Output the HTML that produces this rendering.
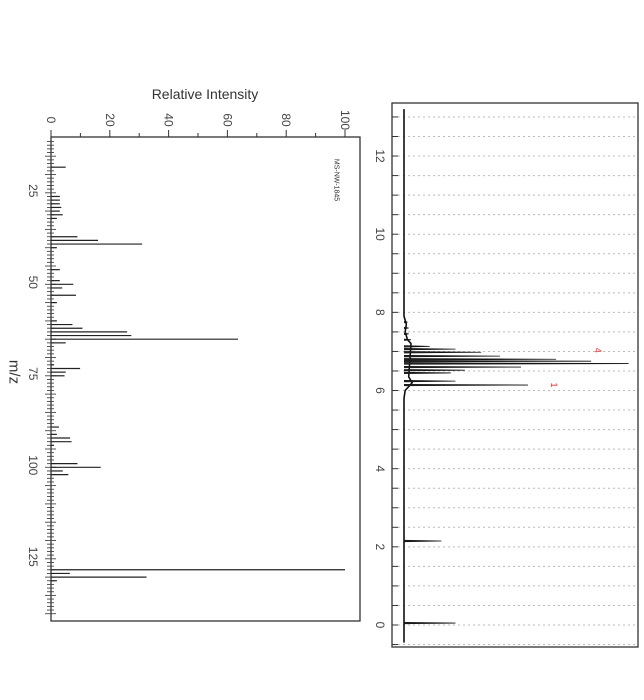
<!DOCTYPE html>
<html><head><meta charset="utf-8"><style>
html,body{margin:0;padding:0;background:#fff;}
svg{display:block;font-family:"Liberation Sans",sans-serif;}
</style></head><body>
<svg id="chart" width="644" height="700" viewBox="0 0 644 700">
<g id="ms"></g>
<g id="tic"></g>
</svg>
<script>
// Mass spectrum data
const msMz = [18,26,27,28,29,30,31,32,37,38,39,40,46,49,50,51,53,55,60,61,62,63,64,65,66,72,73,74,75,89,91,92,93,94,99,100,101,102,128,129,130,131];
const msInt = [5,3,3,3,3.5,3,4,2,9,16,31,2,3,3,7.6,3.8,8.5,2,2,7.3,10.7,25.9,27.3,63.6,5,1,9.9,5,4.6,2.7,2,6.5,7,1,9,16.9,4,5.9,100,6.4,32.5,2];
const intTicks = [0,20,40,60,80,100];
const mzTicks = [25,50,75,100,125];
// Chromatogram data
const peakTimes = [0.05,2.15,6.14,6.24,6.45,6.52,6.60,6.69,6.75,6.80,6.88,6.98,7.06,7.13,7.30,7.45,7.6,7.75];
const peakInts = [22,16,53,22,20,26,50,96,80,65,41,33,22,11,3,2,2,1.5];
const timeTicks = [0,2,4,6,8,10,12];
const peakLabels = ["1","4"];
const peakLabelTimes = [6.14,7.03];
const peakLabelInts = [64,83];

const NS="http://www.w3.org/2000/svg";
function mk(tag,attrs,parent,text){const e=document.createElementNS(NS,tag);for(const k in attrs)e.setAttribute(k,attrs[k]);if(text!==undefined)e.textContent=text;parent.appendChild(e);return e;}

// ---------- Mass spectrum ----------
const ms=document.getElementById('ms');
const msX = v => 51 + v*2.94;
const msY = m => 101.3 + m*3.66;
const box=mk('rect',{x:51,y:137,width:309,height:484,fill:'none',stroke:'#333','stroke-width':1.3},ms);


for(let v=0;v<=100;v+=10){
  const t=mk('line',{x1:msX(v),x2:msX(v),y1:137,y2:v%20===0?130:133,stroke:'#333','stroke-width':1},ms);
  
  
}
intTicks.forEach(v=>{
  const x=msX(v),y=120;
  const t=mk('text',{x:x,y:y,'font-size':12,fill:'#444','text-anchor':'middle','dominant-baseline':'central',transform:`rotate(90 ${x} ${y})`},ms,String(v));
  
  
});
for(let m=11;m<=140;m++){
  const y=msY(m);
  const big=m%5===0;
  const t=mk('line',{x1:big?45:47,x2:big?56:54,y1:y,y2:y,stroke:'#444','stroke-width':0.9},ms);
  
  
}
mzTicks.forEach(m=>{
  const x=33,y=msY(m)-2;
  const t=mk('text',{x:x,y:y,'font-size':12,fill:'#444','text-anchor':'middle','dominant-baseline':'central',transform:`rotate(90 ${x} ${y})`},ms,String(m));
  
  
});
msMz.forEach((m,i)=>{
  const b=mk('line',{x1:msX(0),x2:msX(msInt[i]),y1:msY(m),y2:msY(m),stroke:'#222','stroke-width':1.2},ms);
  
  
});
let t1=mk('text',{x:205,y:99,'font-size':14,fill:'#333','text-anchor':'middle'},ms,'Relative Intensity');


let t2=mk('text',{x:14,y:372,'font-size':15,fill:'#333','text-anchor':'middle','dominant-baseline':'central',transform:'rotate(90 14 372)'},ms,'m/z');


let t3=mk('text',{x:336,y:180,'font-size':7,fill:'#333','text-anchor':'middle','dominant-baseline':'central',transform:'rotate(90 336 180)'},ms,'MS-NW-1845');



// ---------- Chromatogram ----------
const tic=document.getElementById('tic');
const cY = t => 625 - t*39.08;
const cX = v => 404 + v*2.34;
const cb=mk('rect',{x:392,y:103,width:246,height:544,fill:'none',stroke:'#333','stroke-width':1.3},tic);


for(let t=-0.5;t<=13.01;t+=0.5){
  const y=cY(t);
  if(y<105||y>645)continue;
  const g=mk('line',{x1:398,x2:637,y1:y,y2:y,stroke:'#bbb','stroke-width':1,'stroke-dasharray':'2,3'},tic);
  
  
  const tk=mk('line',{x1:392,x2:398,y1:y,y2:y,stroke:'#333','stroke-width':1},tic);
  
  
}
timeTicks.forEach(t=>{
  const x=380,y=cY(t);
  const l=mk('text',{x:x,y:y,'font-size':12,fill:'#444','text-anchor':'middle','dominant-baseline':'central',transform:`rotate(90 ${x} ${y})`},tic,String(t));
  
  
});
let d=`M${cX(0)} ${cY(13.2)} L${cX(0)} ${cY(7.9)} L${cX(1)} ${cY(7.7)} L${cX(0.5)} ${cY(7.5)} L${cX(1.5)} ${cY(7.3)} L${cX(3)} ${cY(7.2)} L${cX(2)} ${cY(6.35)} L${cX(3.5)} ${cY(6.2)} L${cX(2)} ${cY(6.1)} L${cX(0.5)} ${cY(6.0)} L${cX(0)} ${cY(5.8)} L${cX(0)} ${cY(-0.45)}`;
const bl=mk('path',{d:d,fill:'none',stroke:'#111','stroke-width':1.6},tic);


peakTimes.forEach((t,i)=>{
  const w=0.018;
  const p=mk('polyline',{points:`${cX(0)},${cY(t+w)} ${cX(peakInts[i])},${cY(t)} ${cX(0)},${cY(t-w)}`,fill:'#333',stroke:'#111','stroke-width':0.8},tic);
  
  
});
peakLabels.forEach((s,i)=>{
  const x=cX(peakLabelInts[i]),y=cY(peakLabelTimes[i]);
  const l=mk('text',{x:x,y:y,'font-size':9,fill:'#e33','text-anchor':'middle','dominant-baseline':'central',transform:`rotate(90 ${x} ${y})`},tic,s);
  
  
});
</script>
</body></html>
